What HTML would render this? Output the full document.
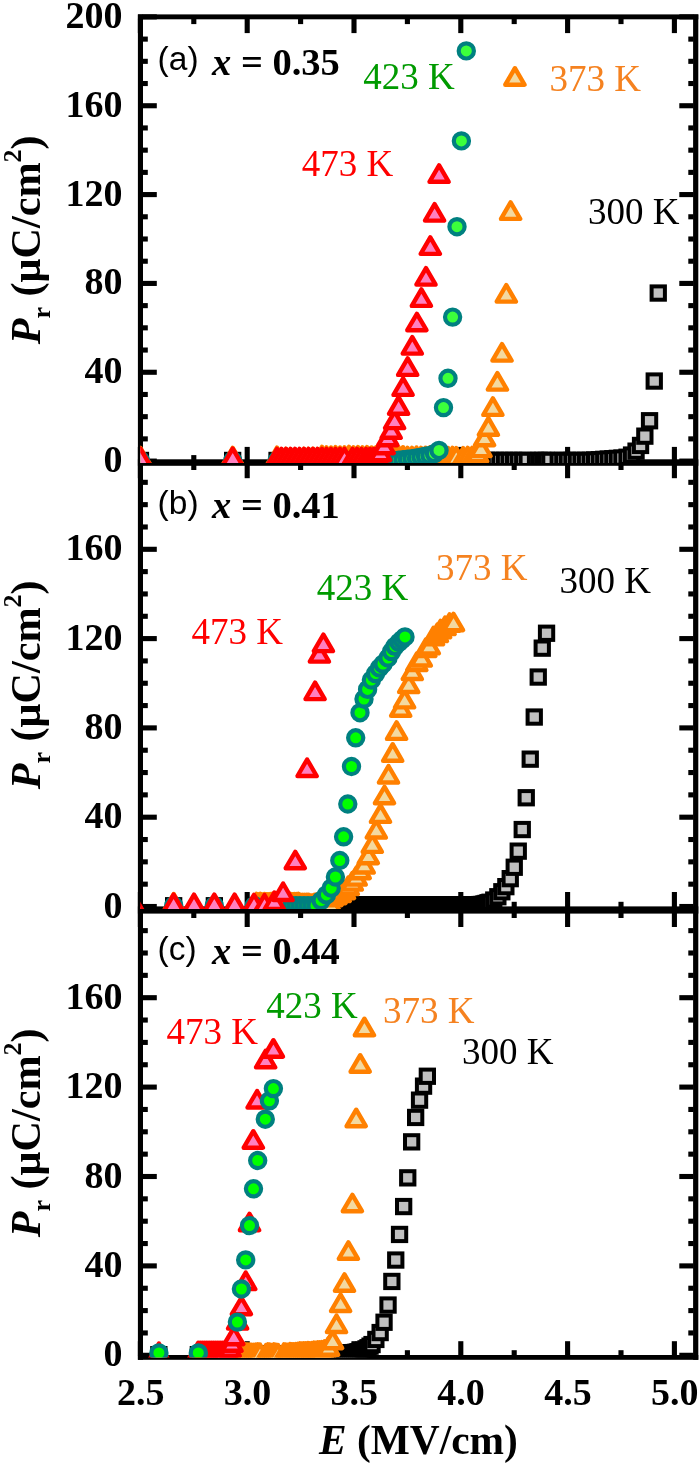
<!DOCTYPE html>
<html><head><meta charset="utf-8"><title>Pr vs E</title>
<style>html,body{margin:0;padding:0;background:#fff}svg{display:block}</style></head>
<body><svg width="700" height="1466" viewBox="0 0 700 1466">
<rect width="700" height="1466" fill="#fff"/>
<g id="axes">
<rect x="137.90" y="14.40" width="5.10" height="1345.40" fill="#000"/>
<rect x="693.10" y="14.40" width="5.20" height="1345.40" fill="#000"/>
<rect x="137.90" y="14.40" width="560.40" height="4.90" fill="#000"/>
<rect x="137.90" y="459.30" width="560.40" height="6.50" fill="#000"/>
<rect x="137.90" y="906.40" width="560.40" height="7.20" fill="#000"/>
<rect x="137.90" y="1355.00" width="560.40" height="4.80" fill="#000"/>
<rect x="137.85" y="18.80" width="5.10" height="14.30" fill="#000"/>
<rect x="137.85" y="446.90" width="5.10" height="31.30" fill="#000"/>
<rect x="137.85" y="892.00" width="5.10" height="35.00" fill="#000"/>
<rect x="137.85" y="1341.20" width="5.10" height="14.30" fill="#000"/>
<rect x="191.25" y="18.80" width="5.10" height="5.30" fill="#000"/>
<rect x="191.25" y="455.10" width="5.10" height="14.90" fill="#000"/>
<rect x="191.25" y="901.80" width="5.10" height="16.20" fill="#000"/>
<rect x="191.25" y="1350.20" width="5.10" height="5.30" fill="#000"/>
<rect x="244.65" y="18.80" width="5.10" height="14.30" fill="#000"/>
<rect x="244.65" y="446.90" width="5.10" height="31.30" fill="#000"/>
<rect x="244.65" y="892.00" width="5.10" height="35.00" fill="#000"/>
<rect x="244.65" y="1341.20" width="5.10" height="14.30" fill="#000"/>
<rect x="298.05" y="18.80" width="5.10" height="5.30" fill="#000"/>
<rect x="298.05" y="455.10" width="5.10" height="14.90" fill="#000"/>
<rect x="298.05" y="901.80" width="5.10" height="16.20" fill="#000"/>
<rect x="298.05" y="1350.20" width="5.10" height="5.30" fill="#000"/>
<rect x="351.45" y="18.80" width="5.10" height="14.30" fill="#000"/>
<rect x="351.45" y="446.90" width="5.10" height="31.30" fill="#000"/>
<rect x="351.45" y="892.00" width="5.10" height="35.00" fill="#000"/>
<rect x="351.45" y="1341.20" width="5.10" height="14.30" fill="#000"/>
<rect x="404.85" y="18.80" width="5.10" height="5.30" fill="#000"/>
<rect x="404.85" y="455.10" width="5.10" height="14.90" fill="#000"/>
<rect x="404.85" y="901.80" width="5.10" height="16.20" fill="#000"/>
<rect x="404.85" y="1350.20" width="5.10" height="5.30" fill="#000"/>
<rect x="458.25" y="18.80" width="5.10" height="14.30" fill="#000"/>
<rect x="458.25" y="446.90" width="5.10" height="31.30" fill="#000"/>
<rect x="458.25" y="892.00" width="5.10" height="35.00" fill="#000"/>
<rect x="458.25" y="1341.20" width="5.10" height="14.30" fill="#000"/>
<rect x="511.65" y="18.80" width="5.10" height="5.30" fill="#000"/>
<rect x="511.65" y="455.10" width="5.10" height="14.90" fill="#000"/>
<rect x="511.65" y="901.80" width="5.10" height="16.20" fill="#000"/>
<rect x="511.65" y="1350.20" width="5.10" height="5.30" fill="#000"/>
<rect x="565.05" y="18.80" width="5.10" height="14.30" fill="#000"/>
<rect x="565.05" y="446.90" width="5.10" height="31.30" fill="#000"/>
<rect x="565.05" y="892.00" width="5.10" height="35.00" fill="#000"/>
<rect x="565.05" y="1341.20" width="5.10" height="14.30" fill="#000"/>
<rect x="618.45" y="18.80" width="5.10" height="5.30" fill="#000"/>
<rect x="618.45" y="455.10" width="5.10" height="14.90" fill="#000"/>
<rect x="618.45" y="901.80" width="5.10" height="16.20" fill="#000"/>
<rect x="618.45" y="1350.20" width="5.10" height="5.30" fill="#000"/>
<rect x="671.85" y="18.80" width="5.10" height="14.30" fill="#000"/>
<rect x="671.85" y="446.90" width="5.10" height="31.30" fill="#000"/>
<rect x="671.85" y="892.00" width="5.10" height="35.00" fill="#000"/>
<rect x="671.85" y="1341.20" width="5.10" height="14.30" fill="#000"/>
<rect x="142.50" y="458.55" width="14.30" height="5.10" fill="#000"/>
<rect x="679.30" y="458.55" width="14.30" height="5.10" fill="#000"/>
<rect x="142.50" y="436.34" width="5.30" height="5.10" fill="#000"/>
<rect x="688.30" y="436.34" width="5.30" height="5.10" fill="#000"/>
<rect x="142.50" y="414.13" width="5.30" height="5.10" fill="#000"/>
<rect x="688.30" y="414.13" width="5.30" height="5.10" fill="#000"/>
<rect x="142.50" y="391.92" width="5.30" height="5.10" fill="#000"/>
<rect x="688.30" y="391.92" width="5.30" height="5.10" fill="#000"/>
<rect x="142.50" y="369.71" width="14.30" height="5.10" fill="#000"/>
<rect x="679.30" y="369.71" width="14.30" height="5.10" fill="#000"/>
<rect x="142.50" y="347.50" width="5.30" height="5.10" fill="#000"/>
<rect x="688.30" y="347.50" width="5.30" height="5.10" fill="#000"/>
<rect x="142.50" y="325.29" width="5.30" height="5.10" fill="#000"/>
<rect x="688.30" y="325.29" width="5.30" height="5.10" fill="#000"/>
<rect x="142.50" y="303.08" width="5.30" height="5.10" fill="#000"/>
<rect x="688.30" y="303.08" width="5.30" height="5.10" fill="#000"/>
<rect x="142.50" y="280.87" width="14.30" height="5.10" fill="#000"/>
<rect x="679.30" y="280.87" width="14.30" height="5.10" fill="#000"/>
<rect x="142.50" y="258.66" width="5.30" height="5.10" fill="#000"/>
<rect x="688.30" y="258.66" width="5.30" height="5.10" fill="#000"/>
<rect x="142.50" y="236.45" width="5.30" height="5.10" fill="#000"/>
<rect x="688.30" y="236.45" width="5.30" height="5.10" fill="#000"/>
<rect x="142.50" y="214.24" width="5.30" height="5.10" fill="#000"/>
<rect x="688.30" y="214.24" width="5.30" height="5.10" fill="#000"/>
<rect x="142.50" y="192.03" width="14.30" height="5.10" fill="#000"/>
<rect x="679.30" y="192.03" width="14.30" height="5.10" fill="#000"/>
<rect x="142.50" y="169.82" width="5.30" height="5.10" fill="#000"/>
<rect x="688.30" y="169.82" width="5.30" height="5.10" fill="#000"/>
<rect x="142.50" y="147.61" width="5.30" height="5.10" fill="#000"/>
<rect x="688.30" y="147.61" width="5.30" height="5.10" fill="#000"/>
<rect x="142.50" y="125.40" width="5.30" height="5.10" fill="#000"/>
<rect x="688.30" y="125.40" width="5.30" height="5.10" fill="#000"/>
<rect x="142.50" y="103.19" width="14.30" height="5.10" fill="#000"/>
<rect x="679.30" y="103.19" width="14.30" height="5.10" fill="#000"/>
<rect x="142.50" y="80.98" width="5.30" height="5.10" fill="#000"/>
<rect x="688.30" y="80.98" width="5.30" height="5.10" fill="#000"/>
<rect x="142.50" y="58.77" width="5.30" height="5.10" fill="#000"/>
<rect x="688.30" y="58.77" width="5.30" height="5.10" fill="#000"/>
<rect x="142.50" y="36.56" width="5.30" height="5.10" fill="#000"/>
<rect x="688.30" y="36.56" width="5.30" height="5.10" fill="#000"/>
<rect x="142.50" y="14.35" width="14.30" height="5.10" fill="#000"/>
<rect x="679.30" y="14.35" width="14.30" height="5.10" fill="#000"/>
<rect x="142.50" y="903.95" width="14.30" height="5.10" fill="#000"/>
<rect x="679.30" y="903.95" width="14.30" height="5.10" fill="#000"/>
<rect x="142.50" y="881.62" width="5.30" height="5.10" fill="#000"/>
<rect x="688.30" y="881.62" width="5.30" height="5.10" fill="#000"/>
<rect x="142.50" y="859.30" width="5.30" height="5.10" fill="#000"/>
<rect x="688.30" y="859.30" width="5.30" height="5.10" fill="#000"/>
<rect x="142.50" y="836.98" width="5.30" height="5.10" fill="#000"/>
<rect x="688.30" y="836.98" width="5.30" height="5.10" fill="#000"/>
<rect x="142.50" y="814.65" width="14.30" height="5.10" fill="#000"/>
<rect x="679.30" y="814.65" width="14.30" height="5.10" fill="#000"/>
<rect x="142.50" y="792.33" width="5.30" height="5.10" fill="#000"/>
<rect x="688.30" y="792.33" width="5.30" height="5.10" fill="#000"/>
<rect x="142.50" y="770.00" width="5.30" height="5.10" fill="#000"/>
<rect x="688.30" y="770.00" width="5.30" height="5.10" fill="#000"/>
<rect x="142.50" y="747.68" width="5.30" height="5.10" fill="#000"/>
<rect x="688.30" y="747.68" width="5.30" height="5.10" fill="#000"/>
<rect x="142.50" y="725.35" width="14.30" height="5.10" fill="#000"/>
<rect x="679.30" y="725.35" width="14.30" height="5.10" fill="#000"/>
<rect x="142.50" y="703.03" width="5.30" height="5.10" fill="#000"/>
<rect x="688.30" y="703.03" width="5.30" height="5.10" fill="#000"/>
<rect x="142.50" y="680.70" width="5.30" height="5.10" fill="#000"/>
<rect x="688.30" y="680.70" width="5.30" height="5.10" fill="#000"/>
<rect x="142.50" y="658.38" width="5.30" height="5.10" fill="#000"/>
<rect x="688.30" y="658.38" width="5.30" height="5.10" fill="#000"/>
<rect x="142.50" y="636.05" width="14.30" height="5.10" fill="#000"/>
<rect x="679.30" y="636.05" width="14.30" height="5.10" fill="#000"/>
<rect x="142.50" y="613.73" width="5.30" height="5.10" fill="#000"/>
<rect x="688.30" y="613.73" width="5.30" height="5.10" fill="#000"/>
<rect x="142.50" y="591.40" width="5.30" height="5.10" fill="#000"/>
<rect x="688.30" y="591.40" width="5.30" height="5.10" fill="#000"/>
<rect x="142.50" y="569.08" width="5.30" height="5.10" fill="#000"/>
<rect x="688.30" y="569.08" width="5.30" height="5.10" fill="#000"/>
<rect x="142.50" y="546.75" width="14.30" height="5.10" fill="#000"/>
<rect x="679.30" y="546.75" width="14.30" height="5.10" fill="#000"/>
<rect x="142.50" y="524.43" width="5.30" height="5.10" fill="#000"/>
<rect x="688.30" y="524.43" width="5.30" height="5.10" fill="#000"/>
<rect x="142.50" y="502.10" width="5.30" height="5.10" fill="#000"/>
<rect x="688.30" y="502.10" width="5.30" height="5.10" fill="#000"/>
<rect x="142.50" y="479.77" width="5.30" height="5.10" fill="#000"/>
<rect x="688.30" y="479.77" width="5.30" height="5.10" fill="#000"/>
<rect x="142.50" y="1352.75" width="14.30" height="5.10" fill="#000"/>
<rect x="679.30" y="1352.75" width="14.30" height="5.10" fill="#000"/>
<rect x="142.50" y="1330.40" width="5.30" height="5.10" fill="#000"/>
<rect x="688.30" y="1330.40" width="5.30" height="5.10" fill="#000"/>
<rect x="142.50" y="1308.05" width="5.30" height="5.10" fill="#000"/>
<rect x="688.30" y="1308.05" width="5.30" height="5.10" fill="#000"/>
<rect x="142.50" y="1285.70" width="5.30" height="5.10" fill="#000"/>
<rect x="688.30" y="1285.70" width="5.30" height="5.10" fill="#000"/>
<rect x="142.50" y="1263.35" width="14.30" height="5.10" fill="#000"/>
<rect x="679.30" y="1263.35" width="14.30" height="5.10" fill="#000"/>
<rect x="142.50" y="1241.00" width="5.30" height="5.10" fill="#000"/>
<rect x="688.30" y="1241.00" width="5.30" height="5.10" fill="#000"/>
<rect x="142.50" y="1218.65" width="5.30" height="5.10" fill="#000"/>
<rect x="688.30" y="1218.65" width="5.30" height="5.10" fill="#000"/>
<rect x="142.50" y="1196.30" width="5.30" height="5.10" fill="#000"/>
<rect x="688.30" y="1196.30" width="5.30" height="5.10" fill="#000"/>
<rect x="142.50" y="1173.95" width="14.30" height="5.10" fill="#000"/>
<rect x="679.30" y="1173.95" width="14.30" height="5.10" fill="#000"/>
<rect x="142.50" y="1151.60" width="5.30" height="5.10" fill="#000"/>
<rect x="688.30" y="1151.60" width="5.30" height="5.10" fill="#000"/>
<rect x="142.50" y="1129.25" width="5.30" height="5.10" fill="#000"/>
<rect x="688.30" y="1129.25" width="5.30" height="5.10" fill="#000"/>
<rect x="142.50" y="1106.90" width="5.30" height="5.10" fill="#000"/>
<rect x="688.30" y="1106.90" width="5.30" height="5.10" fill="#000"/>
<rect x="142.50" y="1084.55" width="14.30" height="5.10" fill="#000"/>
<rect x="679.30" y="1084.55" width="14.30" height="5.10" fill="#000"/>
<rect x="142.50" y="1062.20" width="5.30" height="5.10" fill="#000"/>
<rect x="688.30" y="1062.20" width="5.30" height="5.10" fill="#000"/>
<rect x="142.50" y="1039.85" width="5.30" height="5.10" fill="#000"/>
<rect x="688.30" y="1039.85" width="5.30" height="5.10" fill="#000"/>
<rect x="142.50" y="1017.50" width="5.30" height="5.10" fill="#000"/>
<rect x="688.30" y="1017.50" width="5.30" height="5.10" fill="#000"/>
<rect x="142.50" y="995.15" width="14.30" height="5.10" fill="#000"/>
<rect x="679.30" y="995.15" width="14.30" height="5.10" fill="#000"/>
<rect x="142.50" y="972.80" width="5.30" height="5.10" fill="#000"/>
<rect x="688.30" y="972.80" width="5.30" height="5.10" fill="#000"/>
<rect x="142.50" y="950.45" width="5.30" height="5.10" fill="#000"/>
<rect x="688.30" y="950.45" width="5.30" height="5.10" fill="#000"/>
<rect x="142.50" y="928.10" width="5.30" height="5.10" fill="#000"/>
<rect x="688.30" y="928.10" width="5.30" height="5.10" fill="#000"/>
</g>
<g id="data">
<defs>
<clipPath id="cp0"><rect x="140.3" y="16.9" width="555.6" height="446.1"/></clipPath>
<clipPath id="cp1"><rect x="140.3" y="463.0" width="555.6" height="446.0"/></clipPath>
<clipPath id="cp2"><rect x="140.3" y="910.0" width="555.6" height="447.6"/></clipPath>
</defs>
<g clip-path="url(#cp0)">
<g fill="#c0c0c0" stroke="#000" stroke-width="4" stroke-linejoin="miter">
<rect x="133.8" y="453.8" width="13.3" height="13.3"/><rect x="226.0" y="453.8" width="13.3" height="13.3"/><rect x="270.4" y="453.8" width="13.3" height="13.3"/><rect x="274.9" y="453.8" width="13.3" height="13.3"/><rect x="279.5" y="453.8" width="13.3" height="13.3"/><rect x="284.0" y="453.8" width="13.3" height="13.3"/><rect x="288.6" y="453.8" width="13.3" height="13.3"/><rect x="293.1" y="453.8" width="13.3" height="13.3"/><rect x="297.7" y="453.8" width="13.3" height="13.3"/><rect x="302.2" y="453.8" width="13.3" height="13.3"/><rect x="306.8" y="453.8" width="13.3" height="13.3"/><rect x="311.3" y="453.8" width="13.3" height="13.3"/><rect x="315.9" y="453.8" width="13.3" height="13.3"/><rect x="320.4" y="453.8" width="13.3" height="13.3"/><rect x="325.0" y="453.8" width="13.3" height="13.3"/><rect x="329.5" y="453.8" width="13.3" height="13.3"/><rect x="334.1" y="453.8" width="13.3" height="13.3"/><rect x="338.6" y="453.8" width="13.3" height="13.3"/><rect x="343.2" y="453.8" width="13.3" height="13.3"/><rect x="347.7" y="453.8" width="13.3" height="13.3"/><rect x="352.3" y="453.8" width="13.3" height="13.3"/><rect x="356.8" y="453.8" width="13.3" height="13.3"/><rect x="361.4" y="453.8" width="13.3" height="13.3"/><rect x="365.9" y="453.8" width="13.3" height="13.3"/><rect x="370.5" y="453.8" width="13.3" height="13.3"/><rect x="375.0" y="453.8" width="13.3" height="13.3"/><rect x="379.6" y="453.8" width="13.3" height="13.3"/><rect x="384.1" y="453.8" width="13.3" height="13.3"/><rect x="388.7" y="453.8" width="13.3" height="13.3"/><rect x="393.2" y="453.8" width="13.3" height="13.3"/><rect x="397.8" y="453.8" width="13.3" height="13.3"/><rect x="402.3" y="453.8" width="13.3" height="13.3"/><rect x="406.9" y="453.8" width="13.3" height="13.3"/><rect x="411.4" y="453.8" width="13.3" height="13.3"/><rect x="416.0" y="453.8" width="13.3" height="13.3"/><rect x="420.5" y="453.8" width="13.3" height="13.3"/><rect x="425.1" y="453.8" width="13.3" height="13.3"/><rect x="429.6" y="453.8" width="13.3" height="13.3"/><rect x="434.2" y="453.8" width="13.3" height="13.3"/><rect x="438.7" y="453.8" width="13.3" height="13.3"/><rect x="443.3" y="453.8" width="13.3" height="13.3"/><rect x="447.8" y="453.8" width="13.3" height="13.3"/><rect x="452.4" y="453.8" width="13.3" height="13.3"/><rect x="456.9" y="453.8" width="13.3" height="13.3"/><rect x="461.5" y="453.8" width="13.3" height="13.3"/><rect x="466.0" y="453.8" width="13.3" height="13.3"/><rect x="470.6" y="453.8" width="13.3" height="13.3"/><rect x="475.1" y="453.8" width="13.3" height="13.3"/><rect x="479.7" y="453.8" width="13.3" height="13.3"/><rect x="484.2" y="453.8" width="13.3" height="13.3"/><rect x="488.8" y="453.8" width="13.3" height="13.3"/><rect x="493.3" y="453.8" width="13.3" height="13.3"/><rect x="497.9" y="453.8" width="13.3" height="13.3"/><rect x="502.4" y="453.8" width="13.3" height="13.3"/><rect x="507.0" y="453.8" width="13.3" height="13.3"/><rect x="511.5" y="453.8" width="13.3" height="13.3"/><rect x="516.1" y="453.8" width="13.3" height="13.3"/><rect x="520.6" y="453.8" width="13.3" height="13.3"/><rect x="528.9" y="453.8" width="13.3" height="13.3"/><rect x="532.5" y="453.8" width="13.3" height="13.3"/><rect x="536.1" y="453.8" width="13.3" height="13.3"/><rect x="539.7" y="453.8" width="13.3" height="13.3"/><rect x="543.3" y="453.8" width="13.3" height="13.3"/><rect x="551.6" y="453.8" width="13.3" height="13.3"/><rect x="556.2" y="453.8" width="13.3" height="13.3"/><rect x="560.7" y="453.8" width="13.3" height="13.3"/><rect x="565.3" y="453.8" width="13.3" height="13.3"/><rect x="569.8" y="453.8" width="13.3" height="13.3"/><rect x="574.4" y="453.8" width="13.3" height="13.3"/><rect x="578.9" y="453.8" width="13.3" height="13.3"/><rect x="583.5" y="453.7" width="13.3" height="13.3"/><rect x="588.0" y="453.4" width="13.3" height="13.3"/><rect x="592.6" y="453.1" width="13.3" height="13.3"/><rect x="597.1" y="452.7" width="13.3" height="13.3"/><rect x="601.6" y="452.4" width="13.3" height="13.3"/><rect x="606.2" y="452.1" width="13.3" height="13.3"/><rect x="610.7" y="451.7" width="13.3" height="13.3"/><rect x="615.3" y="451.4" width="13.3" height="13.3"/><rect x="620.4" y="450.6" width="13.3" height="13.3"/><rect x="624.9" y="448.4" width="13.3" height="13.3"/><rect x="629.4" y="444.5" width="13.3" height="13.3"/><rect x="633.9" y="438.8" width="13.3" height="13.3"/><rect x="638.2" y="429.5" width="13.3" height="13.3"/><rect x="642.9" y="414.1" width="13.3" height="13.3"/><rect x="647.6" y="374.4" width="13.3" height="13.3"/><rect x="651.6" y="286.4" width="13.3" height="13.3"/>
</g>
<g fill="#f3d9a0" stroke="#ff8000" stroke-width="4.4" stroke-linejoin="round">
<path d="M140.4 447.8L150.0 464.2H130.8Z"/><path d="M232.7 447.8L242.3 464.2H223.1Z"/><path d="M277.0 447.6L286.6 464.1H267.4Z"/><path d="M281.5 449.4L291.1 465.9H271.9Z"/><path d="M286.0 448.9L295.6 465.4H276.4Z"/><path d="M290.5 449.2L300.1 465.7H280.9Z"/><path d="M295.0 449.5L304.6 466.0H285.4Z"/><path d="M299.5 449.5L309.1 466.0H289.9Z"/><path d="M304.0 448.8L313.6 465.3H294.4Z"/><path d="M308.5 448.9L318.1 465.4H298.9Z"/><path d="M313.0 448.7L322.6 465.2H303.4Z"/><path d="M317.5 449.1L327.1 465.6H307.9Z"/><path d="M322.0 446.9L331.6 463.4H312.4Z"/><path d="M326.5 447.3L336.1 463.8H316.9Z"/><path d="M331.0 447.5L340.6 464.0H321.4Z"/><path d="M335.5 447.1L345.1 463.6H325.9Z"/><path d="M340.0 447.5L349.6 464.0H330.4Z"/><path d="M344.5 447.4L354.1 463.9H334.9Z"/><path d="M349.0 446.9L358.6 463.4H339.4Z"/><path d="M353.5 447.4L363.1 463.9H343.9Z"/><path d="M358.0 447.1L367.6 463.6H348.4Z"/><path d="M362.5 447.3L372.1 463.8H352.9Z"/><path d="M367.0 447.1L376.6 463.6H357.4Z"/><path d="M371.5 447.5L381.1 464.0H361.9Z"/><path d="M376.0 447.3L385.6 463.8H366.4Z"/><path d="M380.5 447.0L390.1 463.5H370.9Z"/><path d="M385.0 447.4L394.6 463.9H375.4Z"/><path d="M389.5 447.6L399.1 464.1H379.9Z"/><path d="M394.0 447.2L403.6 463.7H384.4Z"/><path d="M398.5 447.1L408.1 463.6H388.9Z"/><path d="M403.0 447.2L412.6 463.7H393.4Z"/><path d="M407.5 447.8L417.1 464.3H397.9Z"/><path d="M412.0 447.8L421.6 464.3H402.4Z"/><path d="M416.5 447.5L426.1 464.0H406.9Z"/><path d="M421.0 447.8L430.6 464.3H411.4Z"/><path d="M425.5 447.7L435.1 464.2H415.9Z"/><path d="M430.0 447.2L439.6 463.7H420.4Z"/><path d="M434.5 446.9L444.1 463.4H424.9Z"/><path d="M439.0 447.5L448.6 464.0H429.4Z"/><path d="M443.5 448.2L453.1 464.7H433.9Z"/><path d="M448.0 448.0L457.6 464.5H438.4Z"/><path d="M452.5 447.9L462.1 464.4H442.9Z"/><path d="M456.3 448.1L465.9 464.6H446.7Z"/><path d="M463.2 448.1L472.8 464.6H453.6Z"/><path d="M467.7 447.9L477.3 464.4H458.1Z"/><path d="M472.2 447.9L481.8 464.4H462.6Z"/><path d="M477.6 444.8L487.2 461.2H468.0Z"/><path d="M481.0 439.6L490.6 456.1H471.4Z"/><path d="M484.6 428.8L494.2 445.2H475.0Z"/><path d="M488.4 418.2L498.0 434.8H478.8Z"/><path d="M492.9 398.4L502.5 414.9H483.3Z"/><path d="M497.4 373.1L507.0 389.6H487.8Z"/><path d="M502.0 344.1L511.6 360.6H492.4Z"/><path d="M506.3 285.1L515.9 301.6H496.7Z"/><path d="M510.6 202.4L520.2 218.9H501.0Z"/><path d="M514.9 68.2L524.5 84.7H505.3Z"/>
</g>
<g fill="#3cff3c" stroke="#008080" stroke-width="4.2">
<circle cx="140.4" cy="460.6" r="7.6"/><circle cx="232.7" cy="460.6" r="7.6"/><circle cx="277.0" cy="460.8" r="7.6"/><circle cx="281.5" cy="460.8" r="7.6"/><circle cx="286.0" cy="460.8" r="7.6"/><circle cx="290.5" cy="460.8" r="7.6"/><circle cx="295.0" cy="460.8" r="7.6"/><circle cx="299.5" cy="460.8" r="7.6"/><circle cx="304.0" cy="460.8" r="7.6"/><circle cx="308.5" cy="460.8" r="7.6"/><circle cx="313.0" cy="460.8" r="7.6"/><circle cx="317.5" cy="460.8" r="7.6"/><circle cx="322.0" cy="460.8" r="7.6"/><circle cx="326.5" cy="460.8" r="7.6"/><circle cx="331.0" cy="460.8" r="7.6"/><circle cx="335.5" cy="460.8" r="7.6"/><circle cx="340.0" cy="460.8" r="7.6"/><circle cx="344.5" cy="460.8" r="7.6"/><circle cx="349.0" cy="460.8" r="7.6"/><circle cx="353.5" cy="460.8" r="7.6"/><circle cx="358.0" cy="460.8" r="7.6"/><circle cx="362.5" cy="460.8" r="7.6"/><circle cx="367.0" cy="460.8" r="7.6"/><circle cx="371.5" cy="460.8" r="7.6"/><circle cx="376.0" cy="460.8" r="7.6"/><circle cx="380.5" cy="460.8" r="7.6"/><circle cx="385.0" cy="460.8" r="7.6"/><circle cx="389.5" cy="460.8" r="7.6"/><circle cx="394.0" cy="460.5" r="7.6"/><circle cx="398.5" cy="460.2" r="7.6"/><circle cx="403.0" cy="459.8" r="7.6"/><circle cx="407.5" cy="459.3" r="7.6"/><circle cx="412.0" cy="458.7" r="7.6"/><circle cx="416.5" cy="458.0" r="7.6"/><circle cx="421.0" cy="457.2" r="7.6"/><circle cx="425.5" cy="456.3" r="7.6"/><circle cx="430.0" cy="455.4" r="7.6"/><circle cx="434.5" cy="453.6" r="7.6"/><circle cx="439.0" cy="450.4" r="7.6"/><circle cx="443.5" cy="407.6" r="7.6"/><circle cx="448.0" cy="378.3" r="7.6"/><circle cx="452.6" cy="317.1" r="7.6"/><circle cx="457.0" cy="226.7" r="7.6"/><circle cx="461.4" cy="140.9" r="7.6"/><circle cx="466.3" cy="50.9" r="7.6"/>
</g>
<g fill="#ff80c0" stroke="#ff0000" stroke-width="4.4" stroke-linejoin="round">
<path d="M140.4 448.6L150.0 465.1H130.8Z"/><path d="M232.7 448.6L242.3 465.1H223.1Z"/><path d="M277.0 448.8L286.6 465.2H267.4Z"/><path d="M281.5 448.8L291.1 465.2H271.9Z"/><path d="M286.0 448.8L295.6 465.2H276.4Z"/><path d="M290.5 448.8L300.1 465.2H280.9Z"/><path d="M295.0 448.8L304.6 465.2H285.4Z"/><path d="M299.5 448.8L309.1 465.2H289.9Z"/><path d="M304.0 448.8L313.6 465.2H294.4Z"/><path d="M308.5 448.8L318.1 465.2H298.9Z"/><path d="M313.0 448.8L322.6 465.2H303.4Z"/><path d="M317.5 448.8L327.1 465.2H307.9Z"/><path d="M322.0 448.8L331.6 465.2H312.4Z"/><path d="M326.5 448.8L336.1 465.2H316.9Z"/><path d="M331.0 448.8L340.6 465.2H321.4Z"/><path d="M335.5 448.8L345.1 465.2H325.9Z"/><path d="M340.0 448.8L349.6 465.2H330.4Z"/><path d="M344.5 448.8L354.1 465.2H334.9Z"/><path d="M352.5 448.8L362.1 465.2H342.9Z"/><path d="M357.0 448.8L366.6 465.2H347.4Z"/><path d="M361.5 448.8L371.1 465.2H351.9Z"/><path d="M366.0 448.8L375.6 465.2H356.4Z"/><path d="M370.0 448.8L379.6 465.2H360.4Z"/><path d="M373.8 448.8L383.4 465.2H364.2Z"/><path d="M377.3 447.8L386.9 464.2H367.7Z"/><path d="M380.6 443.8L390.2 460.2H371.0Z"/><path d="M384.2 436.8L393.8 453.2H374.6Z"/><path d="M387.8 428.8L397.4 445.2H378.2Z"/><path d="M391.2 421.2L400.8 437.8H381.6Z"/><path d="M394.6 411.6L404.2 428.1H385.0Z"/><path d="M398.6 397.2L408.2 413.8H389.0Z"/><path d="M403.1 378.4L412.7 394.9H393.5Z"/><path d="M407.7 358.4L417.3 374.9H398.1Z"/><path d="M412.3 337.1L421.9 353.6H402.7Z"/><path d="M416.9 313.8L426.5 330.2H407.3Z"/><path d="M421.4 289.4L431.0 305.9H411.8Z"/><path d="M426.0 268.1L435.6 284.6H416.4Z"/><path d="M430.3 237.4L439.9 253.9H420.7Z"/><path d="M434.6 204.1L444.2 220.6H425.0Z"/><path d="M439.1 165.3L448.7 181.8H429.5Z"/>
</g>
</g>
<g clip-path="url(#cp1)">
<g fill="#c0c0c0" stroke="#000" stroke-width="4" stroke-linejoin="miter">
<rect x="167.0" y="899.1" width="13.3" height="13.3"/><rect x="207.7" y="899.1" width="13.3" height="13.3"/><rect x="247.7" y="899.1" width="13.3" height="13.3"/><rect x="251.3" y="899.1" width="13.3" height="13.3"/><rect x="253.3" y="899.1" width="13.3" height="13.3"/><rect x="255.3" y="899.1" width="13.3" height="13.3"/><rect x="257.4" y="899.1" width="13.3" height="13.3"/><rect x="259.4" y="899.1" width="13.3" height="13.3"/><rect x="261.4" y="899.1" width="13.3" height="13.3"/><rect x="263.4" y="899.0" width="13.3" height="13.3"/><rect x="265.4" y="899.0" width="13.3" height="13.3"/><rect x="267.4" y="899.0" width="13.3" height="13.3"/><rect x="269.4" y="899.0" width="13.3" height="13.3"/><rect x="271.4" y="899.0" width="13.3" height="13.3"/><rect x="273.4" y="899.0" width="13.3" height="13.3"/><rect x="275.4" y="898.9" width="13.3" height="13.3"/><rect x="277.4" y="898.9" width="13.3" height="13.3"/><rect x="279.4" y="898.9" width="13.3" height="13.3"/><rect x="281.4" y="898.9" width="13.3" height="13.3"/><rect x="283.4" y="898.9" width="13.3" height="13.3"/><rect x="285.4" y="898.9" width="13.3" height="13.3"/><rect x="287.4" y="898.8" width="13.3" height="13.3"/><rect x="289.4" y="898.8" width="13.3" height="13.3"/><rect x="291.4" y="898.8" width="13.3" height="13.3"/><rect x="293.4" y="898.8" width="13.3" height="13.3"/><rect x="295.4" y="898.8" width="13.3" height="13.3"/><rect x="297.4" y="898.8" width="13.3" height="13.3"/><rect x="299.4" y="898.7" width="13.3" height="13.3"/><rect x="301.4" y="898.7" width="13.3" height="13.3"/><rect x="303.4" y="898.7" width="13.3" height="13.3"/><rect x="305.4" y="898.7" width="13.3" height="13.3"/><rect x="307.4" y="898.7" width="13.3" height="13.3"/><rect x="309.4" y="898.7" width="13.3" height="13.3"/><rect x="311.4" y="898.6" width="13.3" height="13.3"/><rect x="313.4" y="898.6" width="13.3" height="13.3"/><rect x="315.4" y="898.6" width="13.3" height="13.3"/><rect x="317.4" y="898.6" width="13.3" height="13.3"/><rect x="319.4" y="898.6" width="13.3" height="13.3"/><rect x="321.4" y="898.6" width="13.3" height="13.3"/><rect x="323.4" y="898.5" width="13.3" height="13.3"/><rect x="325.4" y="898.5" width="13.3" height="13.3"/><rect x="327.4" y="898.5" width="13.3" height="13.3"/><rect x="329.4" y="898.5" width="13.3" height="13.3"/><rect x="331.4" y="898.5" width="13.3" height="13.3"/><rect x="333.4" y="898.5" width="13.3" height="13.3"/><rect x="335.4" y="898.5" width="13.3" height="13.3"/><rect x="337.4" y="898.5" width="13.3" height="13.3"/><rect x="339.4" y="898.5" width="13.3" height="13.3"/><rect x="341.4" y="898.5" width="13.3" height="13.3"/><rect x="343.4" y="898.5" width="13.3" height="13.3"/><rect x="345.4" y="898.5" width="13.3" height="13.3"/><rect x="347.4" y="898.5" width="13.3" height="13.3"/><rect x="349.4" y="898.5" width="13.3" height="13.3"/><rect x="351.4" y="898.5" width="13.3" height="13.3"/><rect x="353.4" y="898.5" width="13.3" height="13.3"/><rect x="355.4" y="898.5" width="13.3" height="13.3"/><rect x="357.4" y="898.5" width="13.3" height="13.3"/><rect x="359.4" y="898.5" width="13.3" height="13.3"/><rect x="361.4" y="898.5" width="13.3" height="13.3"/><rect x="363.4" y="898.5" width="13.3" height="13.3"/><rect x="365.4" y="898.5" width="13.3" height="13.3"/><rect x="367.4" y="898.5" width="13.3" height="13.3"/><rect x="369.4" y="898.5" width="13.3" height="13.3"/><rect x="371.4" y="898.5" width="13.3" height="13.3"/><rect x="373.4" y="898.5" width="13.3" height="13.3"/><rect x="375.4" y="898.5" width="13.3" height="13.3"/><rect x="377.4" y="898.5" width="13.3" height="13.3"/><rect x="379.4" y="898.5" width="13.3" height="13.3"/><rect x="381.4" y="898.5" width="13.3" height="13.3"/><rect x="383.4" y="898.5" width="13.3" height="13.3"/><rect x="385.4" y="898.5" width="13.3" height="13.3"/><rect x="387.4" y="898.5" width="13.3" height="13.3"/><rect x="389.4" y="898.5" width="13.3" height="13.3"/><rect x="391.4" y="898.5" width="13.3" height="13.3"/><rect x="393.4" y="898.5" width="13.3" height="13.3"/><rect x="395.4" y="898.5" width="13.3" height="13.3"/><rect x="397.4" y="898.5" width="13.3" height="13.3"/><rect x="399.4" y="898.5" width="13.3" height="13.3"/><rect x="401.4" y="898.5" width="13.3" height="13.3"/><rect x="403.4" y="898.5" width="13.3" height="13.3"/><rect x="405.4" y="898.5" width="13.3" height="13.3"/><rect x="407.4" y="898.5" width="13.3" height="13.3"/><rect x="409.4" y="898.5" width="13.3" height="13.3"/><rect x="411.4" y="898.5" width="13.3" height="13.3"/><rect x="413.4" y="898.5" width="13.3" height="13.3"/><rect x="415.4" y="898.5" width="13.3" height="13.3"/><rect x="417.4" y="898.5" width="13.3" height="13.3"/><rect x="419.4" y="898.5" width="13.3" height="13.3"/><rect x="421.4" y="898.5" width="13.3" height="13.3"/><rect x="423.4" y="898.5" width="13.3" height="13.3"/><rect x="425.4" y="898.5" width="13.3" height="13.3"/><rect x="427.4" y="898.5" width="13.3" height="13.3"/><rect x="429.4" y="898.5" width="13.3" height="13.3"/><rect x="431.4" y="898.5" width="13.3" height="13.3"/><rect x="433.4" y="898.5" width="13.3" height="13.3"/><rect x="435.4" y="898.5" width="13.3" height="13.3"/><rect x="437.4" y="898.5" width="13.3" height="13.3"/><rect x="439.4" y="898.5" width="13.3" height="13.3"/><rect x="441.4" y="898.5" width="13.3" height="13.3"/><rect x="443.4" y="898.5" width="13.3" height="13.3"/><rect x="445.4" y="898.5" width="13.3" height="13.3"/><rect x="447.4" y="898.5" width="13.3" height="13.3"/><rect x="449.4" y="898.5" width="13.3" height="13.3"/><rect x="451.4" y="898.5" width="13.3" height="13.3"/><rect x="453.4" y="898.5" width="13.3" height="13.3"/><rect x="455.4" y="898.5" width="13.3" height="13.3"/><rect x="457.4" y="898.5" width="13.3" height="13.3"/><rect x="459.4" y="898.5" width="13.3" height="13.3"/><rect x="461.4" y="898.5" width="13.3" height="13.3"/><rect x="463.4" y="898.5" width="13.3" height="13.3"/><rect x="465.4" y="898.3" width="13.3" height="13.3"/><rect x="467.4" y="898.2" width="13.3" height="13.3"/><rect x="469.4" y="898.1" width="13.3" height="13.3"/><rect x="471.4" y="898.0" width="13.3" height="13.3"/><rect x="473.4" y="897.9" width="13.3" height="13.3"/><rect x="475.4" y="897.8" width="13.3" height="13.3"/><rect x="477.4" y="897.3" width="13.3" height="13.3"/><rect x="479.4" y="896.8" width="13.3" height="13.3"/><rect x="481.4" y="896.1" width="13.3" height="13.3"/><rect x="483.4" y="895.6" width="13.3" height="13.3"/><rect x="487.1" y="893.4" width="13.3" height="13.3"/><rect x="491.2" y="890.1" width="13.3" height="13.3"/><rect x="495.2" y="885.1" width="13.3" height="13.3"/><rect x="499.2" y="880.0" width="13.3" height="13.3"/><rect x="503.6" y="872.0" width="13.3" height="13.3"/><rect x="507.6" y="860.6" width="13.3" height="13.3"/><rect x="511.6" y="844.5" width="13.3" height="13.3"/><rect x="515.6" y="822.9" width="13.3" height="13.3"/><rect x="519.6" y="791.1" width="13.3" height="13.3"/><rect x="523.6" y="752.5" width="13.3" height="13.3"/><rect x="527.6" y="710.4" width="13.3" height="13.3"/><rect x="531.6" y="670.4" width="13.3" height="13.3"/><rect x="535.6" y="641.5" width="13.3" height="13.3"/><rect x="539.9" y="626.6" width="13.3" height="13.3"/>
</g>
<g fill="#f3d9a0" stroke="#ff8000" stroke-width="4.4" stroke-linejoin="round">
<path d="M173.7 894.0L183.3 910.5H164.1Z"/><path d="M256.5 893.8L266.1 910.3H246.9Z"/><path d="M258.5 894.4L268.1 910.9H248.9Z"/><path d="M260.5 893.8L270.1 910.3H250.9Z"/><path d="M262.5 894.5L272.1 911.0H252.9Z"/><path d="M264.5 894.0L274.1 910.5H254.9Z"/><path d="M266.5 894.2L276.1 910.7H256.9Z"/><path d="M268.5 894.3L278.1 910.8H258.9Z"/><path d="M270.5 894.1L280.1 910.6H260.9Z"/><path d="M272.5 893.8L282.1 910.3H262.9Z"/><path d="M274.5 893.7L284.1 910.2H264.9Z"/><path d="M276.5 893.6L286.1 910.1H266.9Z"/><path d="M278.5 894.3L288.1 910.8H268.9Z"/><path d="M280.5 894.0L290.1 910.5H270.9Z"/><path d="M282.5 893.7L292.1 910.2H272.9Z"/><path d="M284.5 894.4L294.1 910.9H274.9Z"/><path d="M286.5 893.8L296.1 910.3H276.9Z"/><path d="M288.5 894.0L298.1 910.5H278.9Z"/><path d="M290.5 893.8L300.1 910.3H280.9Z"/><path d="M292.5 894.2L302.1 910.7H282.9Z"/><path d="M294.5 894.1L304.1 910.6H284.9Z"/><path d="M296.5 894.1L306.1 910.6H286.9Z"/><path d="M298.5 893.8L308.1 910.3H288.9Z"/><path d="M300.5 894.8L310.1 911.3H290.9Z"/><path d="M302.5 894.8L312.1 911.3H292.9Z"/><path d="M304.5 894.9L314.1 911.4H294.9Z"/><path d="M306.5 894.7L316.1 911.2H296.9Z"/><path d="M308.5 894.7L318.1 911.2H298.9Z"/><path d="M310.5 895.5L320.1 912.0H300.9Z"/><path d="M312.5 895.5L322.1 912.0H302.9Z"/><path d="M314.5 894.7L324.1 911.2H304.9Z"/><path d="M316.5 894.6L326.1 911.1H306.9Z"/><path d="M318.5 894.8L328.1 911.3H308.9Z"/><path d="M320.5 895.2L330.1 911.7H310.9Z"/><path d="M322.5 895.3L332.1 911.8H312.9Z"/><path d="M324.5 894.6L334.1 911.1H314.9Z"/><path d="M326.5 895.1L336.1 911.6H316.9Z"/><path d="M328.5 894.6L338.1 911.1H318.9Z"/><path d="M330.5 895.1L340.1 911.6H320.9Z"/><path d="M332.0 888.8L341.6 905.2H322.4Z"/><path d="M336.0 886.8L345.6 903.2H326.4Z"/><path d="M340.2 884.6L349.8 901.1H330.6Z"/><path d="M344.5 881.8L354.1 898.2H334.9Z"/><path d="M348.3 877.5L357.9 894.0H338.7Z"/><path d="M352.3 873.1L361.9 889.6H342.7Z"/><path d="M356.2 868.1L365.8 884.6H346.6Z"/><path d="M360.2 861.8L369.8 878.2H350.6Z"/><path d="M364.2 856.0L373.8 872.5H354.6Z"/><path d="M368.3 846.8L377.9 863.2H358.7Z"/><path d="M372.3 835.4L381.9 851.9H362.7Z"/><path d="M376.3 821.0L385.9 837.5H366.7Z"/><path d="M380.5 805.4L390.1 821.9H370.9Z"/><path d="M384.5 786.8L394.1 803.2H374.9Z"/><path d="M388.5 766.0L398.1 782.5H378.9Z"/><path d="M392.7 744.2L402.3 760.8H383.1Z"/><path d="M396.6 722.4L406.2 738.9H387.0Z"/><path d="M400.7 699.2L410.3 715.8H391.1Z"/><path d="M404.6 690.9L414.2 707.4H395.0Z"/><path d="M408.7 675.5L418.3 692.0H399.1Z"/><path d="M412.3 662.5L421.9 679.0H402.7Z"/><path d="M416.8 653.5L426.4 670.0H407.2Z"/><path d="M421.3 649.0L430.9 665.5H411.7Z"/><path d="M425.8 639.5L435.4 656.0H416.2Z"/><path d="M429.3 636.9L438.9 653.4H419.7Z"/><path d="M433.5 627.9L443.1 644.4H423.9Z"/><path d="M437.4 624.6L447.0 641.1H427.8Z"/><path d="M440.6 620.9L450.2 637.4H431.0Z"/><path d="M445.1 617.5L454.7 634.0H435.5Z"/><path d="M449.6 614.4L459.2 630.9H440.0Z"/><path d="M453.5 613.8L463.1 630.2H443.9Z"/>
</g>
<g fill="#00ff00" stroke="#008080" stroke-width="4.2">
<circle cx="173.7" cy="905.6" r="7.6"/><circle cx="214.3" cy="905.6" r="7.6"/><circle cx="254.3" cy="905.6" r="7.6"/><circle cx="292.0" cy="905.7" r="7.6"/><circle cx="296.0" cy="905.7" r="7.6"/><circle cx="300.0" cy="905.7" r="7.6"/><circle cx="304.0" cy="905.7" r="7.6"/><circle cx="308.0" cy="905.7" r="7.6"/><circle cx="312.0" cy="905.7" r="7.6"/><circle cx="316.0" cy="905.7" r="7.6"/><circle cx="321.1" cy="900.6" r="7.6"/><circle cx="326.4" cy="894.9" r="7.6"/><circle cx="331.2" cy="888.2" r="7.6"/><circle cx="335.4" cy="877.0" r="7.6"/><circle cx="339.8" cy="860.5" r="7.6"/><circle cx="343.6" cy="836.8" r="7.6"/><circle cx="347.8" cy="804.0" r="7.6"/><circle cx="351.5" cy="766.5" r="7.6"/><circle cx="355.7" cy="737.8" r="7.6"/><circle cx="360.0" cy="712.7" r="7.6"/><circle cx="364.0" cy="699.0" r="7.6"/><circle cx="367.6" cy="689.4" r="7.6"/><circle cx="371.4" cy="680.0" r="7.6"/><circle cx="375.6" cy="673.6" r="7.6"/><circle cx="379.4" cy="668.0" r="7.6"/><circle cx="383.0" cy="664.0" r="7.6"/><circle cx="388.0" cy="658.0" r="7.6"/><circle cx="391.6" cy="651.6" r="7.6"/><circle cx="395.0" cy="646.4" r="7.6"/><circle cx="399.0" cy="642.4" r="7.6"/><circle cx="402.0" cy="639.6" r="7.6"/><circle cx="405.0" cy="636.9" r="7.6"/>
</g>
<g fill="#ff80c0" stroke="#ff0000" stroke-width="4.4" stroke-linejoin="round">
<path d="M133.5 894.8L143.1 911.2H123.9Z"/><path d="M173.6 894.6L183.2 911.1H164.0Z"/><path d="M194.0 894.6L203.6 911.1H184.4Z"/><path d="M214.3 894.6L223.9 911.1H204.7Z"/><path d="M234.6 894.6L244.2 911.1H225.0Z"/><path d="M254.0 894.8L263.6 911.2H244.4Z"/><path d="M264.5 895.0L274.1 911.5H254.9Z"/><path d="M274.3 892.5L283.9 909.0H264.7Z"/><path d="M283.1 883.5L292.7 900.0H273.5Z"/><path d="M295.3 851.8L304.9 868.2H285.7Z"/><path d="M307.1 759.5L316.7 776.0H297.5Z"/><path d="M315.1 682.6L324.7 699.1H305.5Z"/><path d="M319.4 645.1L329.0 661.6H309.8Z"/><path d="M323.4 634.6L333.0 651.1H313.8Z"/>
</g>
</g>
<g clip-path="url(#cp2)">
<g fill="#c0c0c0" stroke="#000" stroke-width="4" stroke-linejoin="miter">
<rect x="152.2" y="1348.0" width="13.3" height="13.3"/><rect x="191.7" y="1348.0" width="13.3" height="13.3"/><rect x="231.3" y="1347.5" width="13.3" height="13.3"/><rect x="233.3" y="1347.5" width="13.3" height="13.3"/><rect x="235.3" y="1347.5" width="13.3" height="13.3"/><rect x="237.3" y="1347.5" width="13.3" height="13.3"/><rect x="239.3" y="1347.5" width="13.3" height="13.3"/><rect x="241.3" y="1347.5" width="13.3" height="13.3"/><rect x="243.3" y="1347.5" width="13.3" height="13.3"/><rect x="245.3" y="1347.5" width="13.3" height="13.3"/><rect x="247.3" y="1347.5" width="13.3" height="13.3"/><rect x="249.3" y="1347.5" width="13.3" height="13.3"/><rect x="251.3" y="1347.5" width="13.3" height="13.3"/><rect x="253.3" y="1347.5" width="13.3" height="13.3"/><rect x="255.3" y="1347.5" width="13.3" height="13.3"/><rect x="257.4" y="1347.5" width="13.3" height="13.3"/><rect x="259.4" y="1347.5" width="13.3" height="13.3"/><rect x="261.4" y="1347.5" width="13.3" height="13.3"/><rect x="263.4" y="1347.5" width="13.3" height="13.3"/><rect x="265.4" y="1347.5" width="13.3" height="13.3"/><rect x="267.4" y="1347.5" width="13.3" height="13.3"/><rect x="269.4" y="1347.5" width="13.3" height="13.3"/><rect x="271.4" y="1347.5" width="13.3" height="13.3"/><rect x="273.4" y="1347.5" width="13.3" height="13.3"/><rect x="275.4" y="1347.5" width="13.3" height="13.3"/><rect x="277.4" y="1347.5" width="13.3" height="13.3"/><rect x="279.4" y="1347.5" width="13.3" height="13.3"/><rect x="281.4" y="1347.5" width="13.3" height="13.3"/><rect x="283.4" y="1347.5" width="13.3" height="13.3"/><rect x="285.4" y="1347.5" width="13.3" height="13.3"/><rect x="287.4" y="1347.5" width="13.3" height="13.3"/><rect x="289.4" y="1347.5" width="13.3" height="13.3"/><rect x="291.4" y="1347.5" width="13.3" height="13.3"/><rect x="293.4" y="1347.5" width="13.3" height="13.3"/><rect x="295.4" y="1347.5" width="13.3" height="13.3"/><rect x="297.4" y="1347.4" width="13.3" height="13.3"/><rect x="299.4" y="1347.4" width="13.3" height="13.3"/><rect x="301.4" y="1347.3" width="13.3" height="13.3"/><rect x="303.4" y="1347.3" width="13.3" height="13.3"/><rect x="305.4" y="1347.2" width="13.3" height="13.3"/><rect x="307.4" y="1347.2" width="13.3" height="13.3"/><rect x="309.4" y="1347.1" width="13.3" height="13.3"/><rect x="311.4" y="1347.1" width="13.3" height="13.3"/><rect x="313.4" y="1347.0" width="13.3" height="13.3"/><rect x="315.4" y="1347.0" width="13.3" height="13.3"/><rect x="317.4" y="1346.9" width="13.3" height="13.3"/><rect x="319.4" y="1346.8" width="13.3" height="13.3"/><rect x="321.4" y="1346.8" width="13.3" height="13.3"/><rect x="323.4" y="1346.7" width="13.3" height="13.3"/><rect x="325.4" y="1346.7" width="13.3" height="13.3"/><rect x="327.4" y="1346.6" width="13.3" height="13.3"/><rect x="329.4" y="1346.6" width="13.3" height="13.3"/><rect x="331.4" y="1346.5" width="13.3" height="13.3"/><rect x="333.4" y="1346.5" width="13.3" height="13.3"/><rect x="335.4" y="1346.4" width="13.3" height="13.3"/><rect x="337.4" y="1346.4" width="13.3" height="13.3"/><rect x="339.4" y="1346.3" width="13.3" height="13.3"/><rect x="341.4" y="1346.3" width="13.3" height="13.3"/><rect x="343.4" y="1346.2" width="13.3" height="13.3"/><rect x="345.4" y="1346.1" width="13.3" height="13.3"/><rect x="347.4" y="1345.9" width="13.3" height="13.3"/><rect x="349.4" y="1345.6" width="13.3" height="13.3"/><rect x="351.4" y="1345.1" width="13.3" height="13.3"/><rect x="353.4" y="1344.6" width="13.3" height="13.3"/><rect x="355.4" y="1343.9" width="13.3" height="13.3"/><rect x="357.4" y="1343.2" width="13.3" height="13.3"/><rect x="359.4" y="1342.2" width="13.3" height="13.3"/><rect x="361.4" y="1341.1" width="13.3" height="13.3"/><rect x="363.4" y="1339.5" width="13.3" height="13.3"/><rect x="365.4" y="1337.9" width="13.3" height="13.3"/><rect x="369.2" y="1332.8" width="13.3" height="13.3"/><rect x="373.5" y="1325.9" width="13.3" height="13.3"/><rect x="377.4" y="1315.6" width="13.3" height="13.3"/><rect x="381.4" y="1298.4" width="13.3" height="13.3"/><rect x="385.2" y="1274.8" width="13.3" height="13.3"/><rect x="389.1" y="1253.4" width="13.3" height="13.3"/><rect x="392.9" y="1227.8" width="13.3" height="13.3"/><rect x="397.0" y="1199.9" width="13.3" height="13.3"/><rect x="401.1" y="1171.2" width="13.3" height="13.3"/><rect x="405.0" y="1135.2" width="13.3" height="13.3"/><rect x="409.0" y="1110.8" width="13.3" height="13.3"/><rect x="412.9" y="1093.5" width="13.3" height="13.3"/><rect x="416.9" y="1079.5" width="13.3" height="13.3"/><rect x="420.7" y="1069.6" width="13.3" height="13.3"/>
</g>
<g fill="#f3d9a0" stroke="#ff8000" stroke-width="4.4" stroke-linejoin="round">
<path d="M232.0 1344.3L241.6 1360.8H222.4Z"/><path d="M234.0 1344.9L243.6 1361.4H224.4Z"/><path d="M236.0 1344.6L245.6 1361.1H226.4Z"/><path d="M238.0 1344.8L247.6 1361.3H228.4Z"/><path d="M240.0 1345.0L249.6 1361.5H230.4Z"/><path d="M242.0 1344.7L251.6 1361.2H232.4Z"/><path d="M244.0 1344.7L253.6 1361.2H234.4Z"/><path d="M246.0 1344.3L255.6 1360.8H236.4Z"/><path d="M248.0 1344.5L257.6 1361.0H238.4Z"/><path d="M250.0 1344.6L259.6 1361.1H240.4Z"/><path d="M252.0 1344.8L261.6 1361.3H242.4Z"/><path d="M254.0 1344.9L263.6 1361.4H244.4Z"/><path d="M256.0 1344.6L265.6 1361.1H246.4Z"/><path d="M258.0 1344.3L267.6 1360.8H248.4Z"/><path d="M260.0 1344.5L269.6 1361.0H250.4Z"/><path d="M266.0 1345.0L275.6 1361.5H256.4Z"/><path d="M268.0 1344.4L277.6 1360.9H258.4Z"/><path d="M270.0 1344.6L279.6 1361.1H260.4Z"/><path d="M272.0 1345.0L281.6 1361.5H262.4Z"/><path d="M274.0 1344.3L283.6 1360.8H264.4Z"/><path d="M276.0 1344.7L285.6 1361.2H266.4Z"/><path d="M278.0 1345.0L287.6 1361.5H268.4Z"/><path d="M284.0 1344.4L293.6 1360.9H274.4Z"/><path d="M286.0 1344.6L295.6 1361.1H276.4Z"/><path d="M288.0 1344.8L297.6 1361.3H278.4Z"/><path d="M290.0 1344.0L299.6 1360.5H280.4Z"/><path d="M292.0 1344.2L301.6 1360.7H282.4Z"/><path d="M294.0 1344.3L303.6 1360.8H284.4Z"/><path d="M296.0 1344.1L305.6 1360.6H286.4Z"/><path d="M298.0 1343.8L307.6 1360.3H288.4Z"/><path d="M300.0 1343.4L309.6 1359.9H290.4Z"/><path d="M302.0 1343.5L311.6 1360.0H292.4Z"/><path d="M304.0 1343.3L313.6 1359.8H294.4Z"/><path d="M306.0 1343.3L315.6 1359.8H296.4Z"/><path d="M308.0 1343.0L317.6 1359.5H298.4Z"/><path d="M310.0 1343.3L319.6 1359.8H300.4Z"/><path d="M312.0 1343.1L321.6 1359.6H302.4Z"/><path d="M314.0 1342.6L323.6 1359.1H304.4Z"/><path d="M316.0 1342.7L325.6 1359.2H306.4Z"/><path d="M318.0 1342.3L327.6 1358.8H308.4Z"/><path d="M320.0 1342.3L329.6 1358.8H310.4Z"/><path d="M322.0 1342.1L331.6 1358.6H312.4Z"/><path d="M324.6 1341.3L334.2 1357.8H315.0Z"/><path d="M328.6 1338.2L338.2 1354.8H319.0Z"/><path d="M332.6 1331.8L342.2 1348.2H323.0Z"/><path d="M336.5 1315.5L346.1 1332.0H326.9Z"/><path d="M340.6 1294.5L350.2 1311.0H331.0Z"/><path d="M344.5 1274.3L354.1 1290.8H334.9Z"/><path d="M348.4 1242.3L358.0 1258.8H338.8Z"/><path d="M352.4 1194.8L362.0 1211.2H342.8Z"/><path d="M356.2 1109.7L365.8 1126.2H346.6Z"/><path d="M360.2 1055.2L369.8 1071.7H350.6Z"/><path d="M364.4 1018.7L374.0 1035.2H354.8Z"/>
</g>
<g fill="#ff80c0" stroke="#ff0000" stroke-width="4.4" stroke-linejoin="round">
<path d="M158.9 1343.5L168.5 1360.0H149.3Z"/><path d="M198.3 1342.7L207.9 1359.2H188.7Z"/><path d="M200.5 1342.7L210.1 1359.2H190.9Z"/><path d="M202.7 1342.7L212.3 1359.2H193.1Z"/><path d="M204.9 1342.7L214.5 1359.2H195.3Z"/><path d="M207.1 1342.7L216.7 1359.2H197.5Z"/><path d="M209.3 1342.7L218.9 1359.2H199.7Z"/><path d="M211.5 1342.7L221.1 1359.2H201.9Z"/><path d="M213.7 1342.7L223.3 1359.2H204.1Z"/><path d="M215.9 1342.7L225.5 1359.2H206.3Z"/><path d="M218.1 1342.7L227.7 1359.2H208.5Z"/><path d="M220.3 1342.7L229.9 1359.2H210.7Z"/><path d="M222.5 1342.7L232.1 1359.2H212.9Z"/><path d="M224.7 1342.7L234.3 1359.2H215.1Z"/><path d="M226.9 1342.7L236.5 1359.2H217.3Z"/><path d="M230.2 1339.2L239.8 1355.8H220.6Z"/><path d="M232.0 1334.2L241.6 1350.8H222.4Z"/><path d="M233.8 1327.8L243.4 1344.2H224.2Z"/><path d="M237.6 1312.0L247.2 1328.5H228.0Z"/><path d="M241.4 1297.8L251.0 1314.2H231.8Z"/><path d="M245.7 1272.5L255.3 1289.0H236.1Z"/><path d="M249.5 1213.8L259.1 1230.2H239.9Z"/><path d="M253.3 1131.2L262.9 1147.7H243.7Z"/><path d="M257.1 1091.0L266.7 1107.5H247.5Z"/><path d="M265.6 1050.8L275.2 1067.3H256.0Z"/><path d="M273.4 1040.2L283.0 1056.7H263.8Z"/>
</g>
<g fill="#00ff00" stroke="#008080" stroke-width="4.2">
<circle cx="158.9" cy="1352.9" r="7.6"/><circle cx="198.3" cy="1352.9" r="7.6"/><circle cx="237.4" cy="1322.1" r="7.6"/><circle cx="241.4" cy="1289.0" r="7.6"/><circle cx="245.7" cy="1259.9" r="7.6"/><circle cx="249.5" cy="1225.6" r="7.6"/><circle cx="253.5" cy="1188.8" r="7.6"/><circle cx="257.7" cy="1160.5" r="7.6"/><circle cx="265.3" cy="1119.2" r="7.6"/><circle cx="269.4" cy="1100.8" r="7.6"/><circle cx="273.4" cy="1088.6" r="7.6"/>
</g>
</g>
</g>
<g id="labels">
<text x="122.6" y="472.1" text-anchor="end" style="font-family:'Liberation Serif',serif;font-weight:bold;font-size:38px">0</text>
<text x="122.6" y="383.3" text-anchor="end" style="font-family:'Liberation Serif',serif;font-weight:bold;font-size:38px">40</text>
<text x="122.6" y="294.4" text-anchor="end" style="font-family:'Liberation Serif',serif;font-weight:bold;font-size:38px">80</text>
<text x="122.6" y="205.6" text-anchor="end" style="font-family:'Liberation Serif',serif;font-weight:bold;font-size:38px">120</text>
<text x="122.6" y="116.7" text-anchor="end" style="font-family:'Liberation Serif',serif;font-weight:bold;font-size:38px">160</text>
<text x="122.6" y="27.9" text-anchor="end" style="font-family:'Liberation Serif',serif;font-weight:bold;font-size:38px">200</text>
<text x="122.6" y="917.5" text-anchor="end" style="font-family:'Liberation Serif',serif;font-weight:bold;font-size:38px">0</text>
<text x="122.6" y="828.2" text-anchor="end" style="font-family:'Liberation Serif',serif;font-weight:bold;font-size:38px">40</text>
<text x="122.6" y="738.9" text-anchor="end" style="font-family:'Liberation Serif',serif;font-weight:bold;font-size:38px">80</text>
<text x="122.6" y="649.6" text-anchor="end" style="font-family:'Liberation Serif',serif;font-weight:bold;font-size:38px">120</text>
<text x="122.6" y="560.3" text-anchor="end" style="font-family:'Liberation Serif',serif;font-weight:bold;font-size:38px">160</text>
<text x="122.6" y="1366.3" text-anchor="end" style="font-family:'Liberation Serif',serif;font-weight:bold;font-size:38px">0</text>
<text x="122.6" y="1276.9" text-anchor="end" style="font-family:'Liberation Serif',serif;font-weight:bold;font-size:38px">40</text>
<text x="122.6" y="1187.5" text-anchor="end" style="font-family:'Liberation Serif',serif;font-weight:bold;font-size:38px">80</text>
<text x="122.6" y="1098.1" text-anchor="end" style="font-family:'Liberation Serif',serif;font-weight:bold;font-size:38px">120</text>
<text x="122.6" y="1008.7" text-anchor="end" style="font-family:'Liberation Serif',serif;font-weight:bold;font-size:38px">160</text>
<text x="140.7" y="1405.3" text-anchor="middle" style="font-family:'Liberation Serif',serif;font-weight:bold;font-size:38px">2.5</text>
<text x="247.5" y="1405.3" text-anchor="middle" style="font-family:'Liberation Serif',serif;font-weight:bold;font-size:38px">3.0</text>
<text x="354.3" y="1405.3" text-anchor="middle" style="font-family:'Liberation Serif',serif;font-weight:bold;font-size:38px">3.5</text>
<text x="461.1" y="1405.3" text-anchor="middle" style="font-family:'Liberation Serif',serif;font-weight:bold;font-size:38px">4.0</text>
<text x="567.9" y="1405.3" text-anchor="middle" style="font-family:'Liberation Serif',serif;font-weight:bold;font-size:38px">4.5</text>
<text x="674.7" y="1405.3" text-anchor="middle" style="font-family:'Liberation Serif',serif;font-weight:bold;font-size:38px">5.0</text>
<text x="319" y="1453.8" style="font-family:'Liberation Serif',serif;font-weight:bold;font-size:41.4px"><tspan font-style="italic">E</tspan> (MV/cm)</text>
<text transform="translate(40.2,344.3) rotate(-90)" style="font-family:'Liberation Serif',serif;font-weight:bold;font-size:42.2px"><tspan font-style="italic">P</tspan><tspan dy="10" font-size="26px">r</tspan><tspan dy="-10"> (μC/cm</tspan><tspan dy="-19" font-size="26px">2</tspan><tspan dy="19">)</tspan></text>
<text transform="translate(40.2,789.3) rotate(-90)" style="font-family:'Liberation Serif',serif;font-weight:bold;font-size:42.2px"><tspan font-style="italic">P</tspan><tspan dy="10" font-size="26px">r</tspan><tspan dy="-10"> (μC/cm</tspan><tspan dy="-19" font-size="26px">2</tspan><tspan dy="19">)</tspan></text>
<text transform="translate(40.2,1237.3) rotate(-90)" style="font-family:'Liberation Serif',serif;font-weight:bold;font-size:42.2px"><tspan font-style="italic">P</tspan><tspan dy="10" font-size="26px">r</tspan><tspan dy="-10"> (μC/cm</tspan><tspan dy="-19" font-size="26px">2</tspan><tspan dy="19">)</tspan></text>
<text x="157.6" y="70.0" style="font-family:'Liberation Sans',sans-serif;font-size:33.5px">(a)</text>
<text x="212" y="75.2" style="font-family:'Liberation Serif',serif;font-weight:bold;font-size:38.5px"><tspan font-style="italic">x</tspan> = 0.35</text>
<text x="157.6" y="514.3" style="font-family:'Liberation Sans',sans-serif;font-size:33.5px">(b)</text>
<text x="212" y="518.3" style="font-family:'Liberation Serif',serif;font-weight:bold;font-size:38.5px"><tspan font-style="italic">x</tspan> = 0.41</text>
<text x="157.6" y="960.2" style="font-family:'Liberation Sans',sans-serif;font-size:33.5px">(c)</text>
<text x="212" y="963.9" style="font-family:'Liberation Serif',serif;font-weight:bold;font-size:38.5px"><tspan font-style="italic">x</tspan> = 0.44</text>
<text x="363.2" y="88.8" fill="#009a00" style="font-family:'Liberation Serif',serif;font-size:37px">423 K</text>
<text x="549.5" y="91.0" fill="#f58220" style="font-family:'Liberation Serif',serif;font-size:37px">373 K</text>
<text x="301.8" y="175.8" fill="#ff0000" style="font-family:'Liberation Serif',serif;font-size:37px">473 K</text>
<text x="588.0" y="223.8" fill="#000" style="font-family:'Liberation Serif',serif;font-size:37px">300 K</text>
<text x="316.8" y="600.0" fill="#009a00" style="font-family:'Liberation Serif',serif;font-size:37px">423 K</text>
<text x="436.0" y="580.0" fill="#f58220" style="font-family:'Liberation Serif',serif;font-size:37px">373 K</text>
<text x="191.5" y="643.8" fill="#ff0000" style="font-family:'Liberation Serif',serif;font-size:37px">473 K</text>
<text x="559.5" y="593.0" fill="#000" style="font-family:'Liberation Serif',serif;font-size:37px">300 K</text>
<text x="266.2" y="1017.8" fill="#009a00" style="font-family:'Liberation Serif',serif;font-size:37px">423 K</text>
<text x="383.0" y="1023.0" fill="#f58220" style="font-family:'Liberation Serif',serif;font-size:37px">373 K</text>
<text x="166.6" y="1044.4" fill="#ff0000" style="font-family:'Liberation Serif',serif;font-size:37px">473 K</text>
<text x="461.9" y="1063.8" fill="#000" style="font-family:'Liberation Serif',serif;font-size:37px">300 K</text>
</g>
</svg></body></html>
